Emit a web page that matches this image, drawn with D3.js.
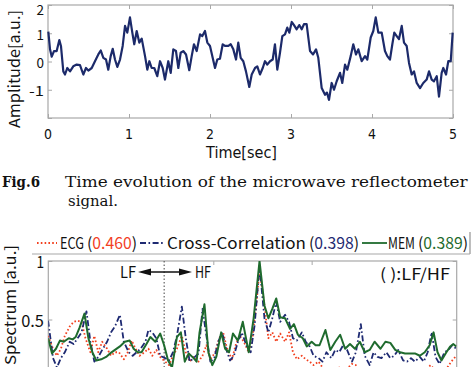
<!DOCTYPE html>
<html><head><meta charset="utf-8">
<script src="https://cdn.jsdelivr.net/npm/d3@7"></script>
<style>body{margin:0;background:#fff;} svg{display:block;}</style>
</head><body>
<svg id="c" width="474" height="367"></svg>
<script>
// ---- Fig.6 : reflectometer signal ----
const timeSec = [0.004,0.025,0.046,0.074,0.107,0.140,0.160,0.189,0.210,0.238,0.272,0.312,0.354,0.395,0.436,0.469,0.498,0.540,0.580,0.621,0.651,0.683,0.716,0.744,0.774,0.799,0.827,0.856,0.889,0.922,0.951,0.979,1.012,1.041,1.065,1.095,1.127,1.157,1.198,1.226,1.251,1.280,1.312,1.349,1.383,1.416,1.444,1.485,1.515,1.547,1.580,1.609,1.638,1.670,1.704,1.744,1.774,1.802,1.836,1.877,1.905,1.938,1.967,2.000,2.033,2.062,2.090,2.123,2.157,2.185,2.226,2.256,2.288,2.321,2.349,2.379,2.411,2.444,2.485,2.515,2.556,2.584,2.617,2.651,2.679,2.707,2.741,2.774,2.802,2.831,2.864,2.893,2.926,2.954,2.979,3.009,3.037,3.070,3.102,3.132,3.160,3.193,3.235,3.272,3.309,3.337,3.379,3.420,3.444,3.469,3.502,3.531,3.564,3.605,3.633,3.667,3.695,3.737,3.769,3.802,3.831,3.873,3.914,3.942,3.984,4.016,4.046,4.078,4.120,4.160,4.189,4.222,4.251,4.275,4.305,4.333,4.367,4.395,4.428,4.457,4.490,4.519,4.552,4.593,4.633,4.675,4.704,4.737,4.765,4.799,4.827,4.860,4.880,4.914,4.942,4.972,4.996];
const amplitude = [1.06,0.43,0.17,0.37,0.37,0.76,0.55,-0.35,-0.46,-0.23,-0.35,-0.17,-0.11,-0.13,-0.46,-0.23,-0.32,-0.23,0.01,0.25,0.39,0.13,0.07,-0.29,0.19,0.45,0.07,-0.19,0.07,0.55,1.26,1.02,1.56,1.02,0.61,1.08,0.67,0.81,0.19,-0.29,0.01,-0.23,-0.23,-0.52,0.01,-0.23,-0.64,0.01,-0.40,0.43,0.37,-0.23,0.31,0.37,0.25,-0.31,0.19,0.61,0.37,0.96,0.90,1.08,0.67,0.55,0.13,-0.23,0.07,0.10,0.61,0.55,0.55,0.61,0.43,0.07,0.67,0.13,0.01,-0.35,-0.90,-0.46,-0.23,-0.17,-0.46,-0.23,0.01,-0.11,0.01,0.07,0.61,-0.29,0.31,0.90,0.96,1.20,1.02,1.40,1.29,1.14,1.29,1.14,1.32,1.32,0.37,0.25,0.43,0.13,-0.94,-1.18,-1.10,-1.36,-0.76,-1.00,-0.70,-0.40,-0.76,-0.11,-0.29,0.19,0.61,0.25,0.43,0.01,0.19,0.07,0.85,1.08,1.56,1.02,1.02,0.37,0.19,0.07,0.61,1.02,0.90,0.79,1.26,0.67,0.55,-0.05,-0.46,-0.35,-0.76,-0.94,-0.76,-0.64,-0.35,-0.64,-0.70,-0.52,-1.24,-0.40,-0.23,-0.46,0.01,0.01,1.02];
const timeTicks = [0,1,2,3,4,5];
const ampTicks = [-2,-1,0,1,2];
const ampTickLabels = ["", "-1", "0", "1", "2"];

// ---- spectrum panel ----
const ecgFreq = [0.032,0.037,0.041,0.045,0.049,0.054,0.058,0.062,0.066,0.070,0.075,0.079,0.083,0.087,0.092,0.096,0.100,0.104,0.109,0.113,0.117,0.121,0.125,0.130,0.134,0.138,0.142,0.146,0.151,0.155,0.159,0.163,0.168,0.172,0.176,0.180,0.185,0.189,0.193,0.197,0.202,0.206,0.210,0.214,0.219,0.223,0.227,0.231,0.236,0.240,0.244,0.247,0.252,0.256,0.260,0.264,0.268,0.273,0.277,0.281,0.285,0.290,0.294,0.298,0.302,0.307,0.311,0.315,0.320,0.324,0.328,0.332,0.336,0.341,0.345,0.349,0.353,0.358,0.362,0.366,0.370,0.375,0.379,0.383,0.387,0.392,0.396,0.400,0.404,0.408,0.413,0.417,0.421,0.425,0.430,0.434,0.438,0.442,0.447];
const ecgPower = [0.36,0.25,0.19,0.25,0.36,0.44,0.48,0.49,0.48,0.34,0.22,0.36,0.22,0.31,0.25,0.19,0.22,0.22,0.16,0.22,0.32,0.25,0.19,0.22,0.25,0.19,0.24,0.18,0.14,0.11,0.19,0.25,0.36,0.22,0.14,0.18,0.14,0.19,0.28,0.16,0.22,0.34,0.39,0.25,0.16,0.29,0.36,0.31,0.22,0.36,0.65,0.93,0.62,0.34,0.39,0.31,0.38,0.31,0.39,0.22,0.16,0.19,0.16,0.14,0.11,0.14,0.09,0.05,0.08,0.04,0.09,0.05,0.08,0.12,0.11,0.05,0.08,0.04,0.07,0.04,0.08,0.05,0.02,0.07,0.04,0.08,0.04,0.07,0.02,0.05,0.04,0.08,0.11,0.07,0.05,0.08,0.09,0.14,0.19];
const ccFreq = [0.032,0.037,0.041,0.045,0.049,0.054,0.058,0.062,0.066,0.071,0.075,0.079,0.083,0.087,0.092,0.096,0.100,0.105,0.109,0.114,0.118,0.122,0.126,0.131,0.134,0.138,0.142,0.146,0.151,0.155,0.159,0.163,0.168,0.172,0.176,0.180,0.185,0.189,0.193,0.197,0.201,0.205,0.209,0.213,0.217,0.221,0.225,0.229,0.234,0.238,0.242,0.247,0.252,0.256,0.260,0.264,0.268,0.273,0.277,0.281,0.285,0.290,0.294,0.298,0.302,0.307,0.311,0.315,0.320,0.324,0.328,0.332,0.336,0.341,0.345,0.350,0.354,0.359,0.363,0.367,0.371,0.376,0.380,0.384,0.388,0.393,0.397,0.401,0.405,0.410,0.414,0.418,0.422,0.426,0.430,0.435,0.439,0.443,0.447];
const ccPower = [0.49,0.17,0.09,0.17,0.22,0.31,0.29,0.34,0.39,0.57,0.31,0.14,0.18,0.24,0.31,0.39,0.44,0.54,0.31,0.22,0.19,0.22,0.25,0.31,0.41,0.39,0.34,0.19,0.17,0.15,0.22,0.36,0.61,0.34,0.14,0.17,0.21,0.59,0.36,0.14,0.17,0.31,0.39,0.25,0.15,0.19,0.31,0.39,0.27,0.22,0.45,0.96,0.51,0.39,0.51,0.65,0.48,0.54,0.48,0.34,0.32,0.39,0.31,0.27,0.19,0.17,0.14,0.22,0.17,0.24,0.22,0.28,0.24,0.14,0.22,0.46,0.19,0.11,0.22,0.18,0.17,0.22,0.17,0.19,0.24,0.15,0.14,0.17,0.14,0.18,0.14,0.22,0.39,0.18,0.12,0.22,0.24,0.28,0.25];
const memFreq = [0.032,0.036,0.040,0.044,0.048,0.053,0.057,0.060,0.064,0.069,0.073,0.077,0.081,0.086,0.091,0.095,0.100,0.105,0.110,0.115,0.119,0.123,0.127,0.132,0.136,0.141,0.146,0.150,0.154,0.158,0.163,0.167,0.171,0.175,0.180,0.183,0.186,0.191,0.195,0.199,0.203,0.208,0.212,0.216,0.220,0.225,0.230,0.236,0.241,0.247,0.252,0.256,0.260,0.264,0.268,0.273,0.278,0.282,0.286,0.291,0.295,0.300,0.304,0.308,0.314,0.319,0.324,0.329,0.334,0.339,0.344,0.349,0.354,0.359,0.364,0.370,0.375,0.380,0.385,0.390,0.395,0.400,0.405,0.410,0.415,0.420,0.424,0.428,0.432,0.437,0.441,0.444,0.447];
const memPower = [0.34,0.21,0.25,0.32,0.31,0.34,0.33,0.35,0.43,0.55,0.34,0.22,0.15,0.16,0.18,0.21,0.24,0.27,0.31,0.32,0.25,0.22,0.22,0.29,0.35,0.31,0.38,0.28,0.15,0.09,0.35,0.39,0.14,0.21,0.17,0.14,0.39,0.63,0.22,0.11,0.18,0.39,0.25,0.22,0.38,0.32,0.48,0.22,0.51,1.00,0.62,0.51,0.59,0.68,0.52,0.51,0.42,0.46,0.37,0.34,0.27,0.31,0.28,0.28,0.41,0.24,0.31,0.37,0.25,0.29,0.25,0.31,0.22,0.24,0.31,0.25,0.31,0.30,0.24,0.22,0.21,0.21,0.21,0.19,0.22,0.28,0.39,0.22,0.15,0.22,0.27,0.29,0.27];
const freqTicks = [0.2, 0.3];
const specTicks = [0.5, 1];
const specTickLabels = ["0.5", "1"];
const seriesNames = ["ECG", "Cross-Correlation", "MEM"];
const lfhfRatios = ["0.460", "0.398", "0.389"];
const lfhfBoundary = 0.15;

const svg = d3.select("#c");
const GOTH = "'Noto Sans CJK JP','DejaVu Sans',sans-serif";
const DJV = "'DejaVu Sans',sans-serif";
const SERIF = "'DejaVu Serif','Liberation Serif',serif";
const frameCol = "#a8a8a8";

// text whose natural width is scaled (horizontally) to a target width
function fitText(x, y, width, opts = {}, build) {
  const t = svg.append("text").attr("x", 0).attr("y", 0)
    .attr("font-family", opts.family || GOTH)
    .attr("font-size", opts.size || 15)
    .attr("fill", opts.fill || "#111");
  if (opts.weight) t.attr("font-weight", opts.weight);
  if (typeof build === "string") t.text(build); else build(t);
  const w = t.node().getComputedTextLength();
  const sx = width / w;
  const rot = opts.rotate ? ` rotate(${opts.rotate})` : "";
  t.attr("transform", `translate(${x},${y})${rot} scale(${sx},1)`);
  return t;
}

// ================= TOP CHART =================
const x1 = d3.scaleLinear().domain([0, 5]).range([48, 453]);
const y1 = d3.scaleLinear().domain([-2, 2]).range([118, 5]);

svg.append("rect").attr("x", 48).attr("y", 5).attr("width", 405).attr("height", 113)
  .attr("fill", "none").attr("stroke", frameCol).attr("stroke-width", 1.2);

const gx1 = svg.append("g").attr("transform", "translate(0,118)")
  .call(d3.axisBottom(x1).tickValues(timeTicks).tickSize(-4).tickFormat(""));
const gx1t = svg.append("g").attr("transform", "translate(0,5)")
  .call(d3.axisTop(x1).tickValues(timeTicks).tickSize(-4).tickFormat(""));
const gy1 = svg.append("g").attr("transform", "translate(48,0)")
  .call(d3.axisLeft(y1).tickValues(ampTicks).tickSize(-4).tickFormat(""));
const gy1r = svg.append("g").attr("transform", "translate(453,0)")
  .call(d3.axisRight(y1).tickValues(ampTicks).tickSize(-4).tickFormat(""));
[gx1, gx1t, gy1, gy1r].forEach(g => {
  g.select(".domain").remove();
  g.selectAll("line").attr("stroke", frameCol).attr("stroke-width", 1);
});

timeTicks.forEach(t => fitText(x1(t) - 4, 138.5, 8, {size: 14, family: DJV}, String(t)));
ampTicks.forEach((v, i) => {
  const s = ampTickLabels[i];
  if (s) {
    const yb = Math.max(y1(v) + 6.5, 15);
    const w = s.length * 7.5;
    fitText(44 - w, yb, w, {size: 14}, s);
  }
});
fitText(20, 128, 118, {size: 15, rotate: -90}, "Amplitude[a.u.]");
fitText(206, 158, 71, {size: 15, family: DJV}, "Time[sec]");

const sig = timeSec.map((t, i) => [t, amplitude[i]]);
svg.append("path").datum(sig)
  .attr("d", d3.line().x(d => x1(d[0])).y(d => y1(d[1])))
  .attr("fill", "none").attr("stroke", "#1c2a6a").attr("stroke-width", 2.2)
  .attr("stroke-linejoin", "round");

// ================= CAPTION =================
fitText(2, 187, 38, {family: SERIF, size: 15, weight: "bold"}, "Fig.6");
fitText(65, 187, 403, {family: SERIF, size: 15}, "Time evolution of the microwave reflectometer");
fitText(68, 206, 50, {family: SERIF, size: 15}, "signal.");

// ================= BOTTOM CHART =================
const x2 = d3.scaleLinear().domain([0.0322, 0.4475]).range([48.3, 456.7]);
const y2 = d3.scaleLinear().domain([0, 1]).range([378, 261]);

svg.append("line").attr("x1", 32).attr("x2", 470).attr("y1", 254).attr("y2", 254)
  .attr("stroke", frameCol).attr("stroke-width", 1.2);
svg.append("line").attr("x1", 470).attr("x2", 470).attr("y1", 232).attr("y2", 254)
  .attr("stroke", frameCol).attr("stroke-width", 1.5);

const colors = ["#f2401f", "#1e2a72", "#1f6b2e"];
const dashes = ["1.6,2.2", "6,2.5,1.6,2.5", null];

const legendLayout = [
  {s: [37, 57], name: [60, 84], ratio: [87, 137]},
  {s: [140, 164], name: [167, 306], ratio: [309, 359]},
  {s: [362, 387], name: [388, 415], ratio: [418, 468]}
];
seriesNames.forEach((n, i) => {
  const L = legendLayout[i];
  const ln = svg.append("line").attr("x1", L.s[0]).attr("x2", L.s[1]).attr("y1", 243).attr("y2", 243)
    .attr("stroke", colors[i]).attr("stroke-width", 1.8);
  if (dashes[i]) ln.attr("stroke-dasharray", dashes[i]);
  fitText(L.name[0], 249, L.name[1] - L.name[0], {size: 16}, n);
  fitText(L.ratio[0], 249, L.ratio[1] - L.ratio[0], {size: 16}, t => {
    t.append("tspan").text("(");
    t.append("tspan").attr("fill", colors[i]).text(lfhfRatios[i]);
    t.append("tspan").text(")");
  });
});

svg.append("rect").attr("x", 48.3).attr("y", 261).attr("width", 408.4).attr("height", 117)
  .attr("fill", "none").attr("stroke", frameCol).attr("stroke-width", 1.2);
const gx2 = svg.append("g").attr("transform", "translate(0,261)")
  .call(d3.axisTop(x2).tickValues(freqTicks).tickSize(-4).tickFormat(""));
const gy2 = svg.append("g").attr("transform", "translate(456.7,0)")
  .call(d3.axisRight(y2).tickValues(specTicks).tickSize(-4).tickFormat(""));
const gy2l = svg.append("g").attr("transform", "translate(48.3,0)")
  .call(d3.axisLeft(y2).tickValues(specTicks).tickSize(-4).tickFormat(""));
[gx2, gy2, gy2l].forEach(g => {
  g.select(".domain").remove();
  g.selectAll("line").attr("stroke", frameCol).attr("stroke-width", 1);
});
specTicks.forEach((v, i) => {
  const s = specTickLabels[i];
  const w = s.length * 7.6;
  fitText(44 - w, y2(v) + 7, w, {size: 16}, s);
});
fitText(16, 365, 120, {size: 15, rotate: -90}, "Spectrum [a.u.]");

svg.append("clipPath").attr("id", "clip2").append("rect")
  .attr("x", 48.3).attr("y", 261).attr("width", 408.4).attr("height", 117);

svg.append("line").attr("x1", x2(lfhfBoundary)).attr("x2", x2(lfhfBoundary))
  .attr("y1", 261).attr("y2", 378).attr("stroke", "#444").attr("stroke-width", 1)
  .attr("stroke-dasharray", "1.5,2");

const line2 = d3.line().x(d => x2(d[0])).y(d => y2(d[1]));
const gLines = svg.append("g").attr("clip-path", "url(#clip2)");
[[ecgFreq, ecgPower], [ccFreq, ccPower], [memFreq, memPower]].forEach((s, i) => {
  const p = gLines.append("path").datum(s[0].map((f, j) => [f, s[1][j]]))
    .attr("d", line2).attr("fill", "none").attr("stroke", colors[i])
    .attr("stroke-width", i === 2 ? 2 : 1.8).attr("stroke-linejoin", "round");
  if (dashes[i]) p.attr("stroke-dasharray", dashes[i]);
});

fitText(120, 278, 16, {size: 16}, "LF");
fitText(195, 278, 16, {size: 16}, "HF");
const ay = 272;
svg.append("line").attr("x1", 146).attr("x2", 184).attr("y1", ay).attr("y2", ay).attr("stroke", "#111").attr("stroke-width", 1.4);
svg.append("path").attr("d", `M138,${ay} L151,${ay-3.5} L151,${ay+3.5} Z`).attr("fill", "#111");
svg.append("path").attr("d", `M192,${ay} L179,${ay-3.5} L179,${ay+3.5} Z`).attr("fill", "#111");

fitText(380, 280, 70, {size: 16}, "( ):LF/HF");
</script>
</body></html>
